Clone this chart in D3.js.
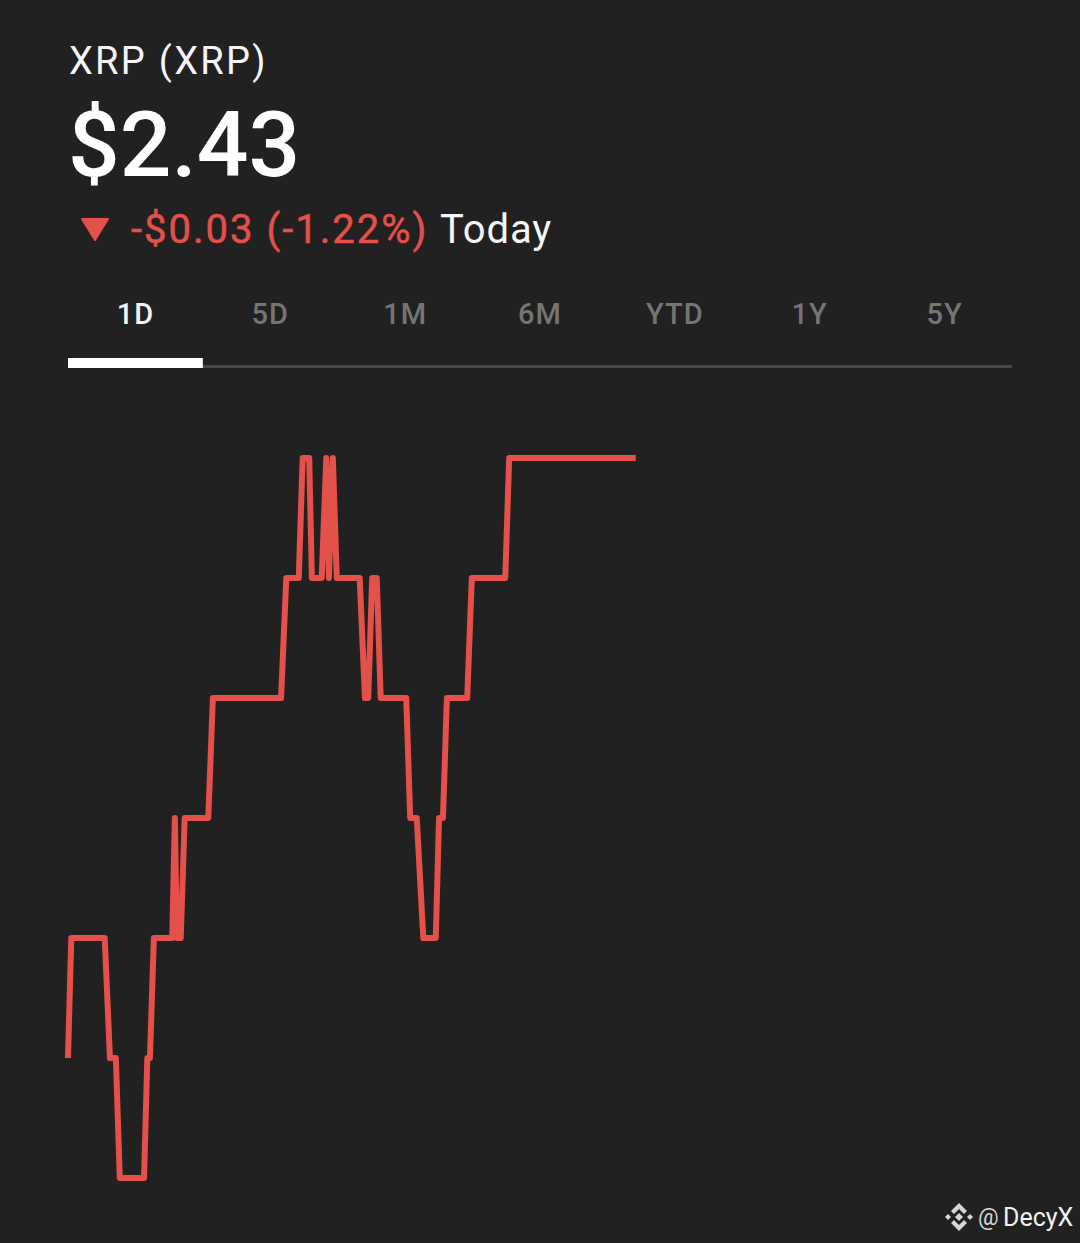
<!DOCTYPE html>
<html>
<head>
<meta charset="utf-8">
<script src="https://cdn.jsdelivr.net/npm/d3@7"></script>
<style>
html, body { margin: 0; padding: 0; background: #212121; }
svg { display: block; }
text { font-family: Roboto, sans-serif; }
</style>
</head>
<body>
<div id="chart"></div>
<script>
const width = 1080;
const height = 1243;

// minutes since the start of the day
const minutes = [0, 5, 56, 64, 73, 79, 116, 121, 125, 131, 159, 163, 166, 172, 178, 214, 221, 325, 333, 352, 358, 368,
    372, 387, 394, 398, 404, 410, 445, 453, 458, 464, 471, 477, 516, 522, 532, 542, 561, 566, 572, 578, 609, 616, 667, 673, 866];
const prices = [2.38, 2.39, 2.39, 2.38, 2.38, 2.37, 2.37, 2.38, 2.38, 2.39, 2.39, 2.40, 2.39, 2.39, 2.40, 2.40, 2.41, 2.41, 2.42, 2.42, 2.43, 2.43,
    2.42, 2.42, 2.43, 2.42, 2.43, 2.42, 2.42, 2.41, 2.41, 2.42, 2.42, 2.41, 2.41, 2.40, 2.40, 2.39, 2.39, 2.40, 2.40, 2.41, 2.41, 2.42, 2.42, 2.43, 2.43];
const tabs = ["1D", "5D", "1M", "6M", "YTD", "1Y", "5Y"];

const red = "#e4504a";

let svg = d3.select("#chart").append("svg")
    .attr("width", width)
    .attr("height", height)
    .attr("viewBox", `0 0 ${width} ${height}`);

svg.append("rect").attr("width", width).attr("height", height).attr("fill", "#212121");

// header
svg.append("text").attr("x", 69).attr("y", 74)
    .attr("font-size", 38).attr("letter-spacing", 2.3).attr("fill", "#f5f5f5")
    .text("XRP (XRP)");
svg.append("text").attr("x", 68).attr("y", 176)
    .attr("font-size", 91).attr("font-weight", 500).attr("fill", "#fff")
    .text("$2.43");
svg.append("path")
    .attr("d", "M82,219L108,219L95,240Z")
    .attr("fill", red)
    .attr("stroke", red).attr("stroke-width", 2).attr("stroke-linejoin", "round");
svg.append("text").attr("x", 131).attr("y", 243)
    .attr("font-size", 40).attr("letter-spacing", 2).attr("fill", red)
    .attr("stroke", red).attr("stroke-width", 0.5)
    .text("-$0.03 (-1.22%)");
svg.append("text").attr("x", 440).attr("y", 243)
    .attr("font-size", 40).attr("letter-spacing", 0.9).attr("fill", "#f5f5f5")
    .text("Today");

// range tabs
let tabScale = d3.scaleBand().domain(tabs).range([68, 1012]);

svg.append("rect").attr("x", 68).attr("y", 365).attr("width", 944).attr("height", 3).attr("fill", "#484848");
svg.append("rect")
    .attr("x", tabScale("1D")).attr("y", 358)
    .attr("width", tabScale.bandwidth()).attr("height", 10)
    .attr("fill", "#fff");

svg.selectAll(".tab")
    .data(tabs)
    .enter().append("text")
    .attr("class", "tab")
    .attr("x", d => tabScale(d) + tabScale.bandwidth() / 2)
    .attr("y", 324)
    .attr("text-anchor", "middle")
    .attr("font-size", 29)
    .attr("font-weight", 500)
    .attr("letter-spacing", 1)
    .attr("fill", (d, i) => i === 0 ? "#f5f5f5" : "#757575")
    .text(d => d);

// price line
let x = d3.scaleLinear().domain([0, 1440]).range([68, 1012]);
let y = d3.scaleLinear().domain([2.37, 2.43]).range([1178, 458]);

let line = d3.line()
    .x(d => x(d[0]))
    .y(d => y(d[1]));

svg.append("path")
    .datum(d3.zip(minutes, prices))
    .attr("d", line)
    .attr("fill", "none")
    .attr("stroke", red)
    .attr("stroke-width", 6)
    .attr("stroke-linejoin", "round");

// watermark
let mark = svg.append("g").attr("transform", "translate(959,1217)").attr("fill", "#d6d6d6");
mark.append("path").attr("d", "M0,-4L4,0L0,4L-4,0Z");
mark.append("path").attr("d", "M-14,0L-11,-3L-8,0L-11,3Z");
mark.append("path").attr("d", "M14,0L11,-3L8,0L11,3Z");
mark.append("path").attr("d", "M0,-14L8,-6L5,-3L0,-8L-5,-3L-8,-6Z");
mark.append("path").attr("d", "M0,14L8,6L5,3L0,8L-5,3L-8,6Z");
svg.append("text").attr("x", 978).attr("y", 1225)
    .attr("font-size", 23).attr("fill", "#d6d6d6")
    .text("@");
svg.append("text").attr("x", 1003).attr("y", 1226)
    .attr("font-size", 25).attr("fill", "#f0f0f0")
    .text("DecyX");
</script>
</body>
</html>
